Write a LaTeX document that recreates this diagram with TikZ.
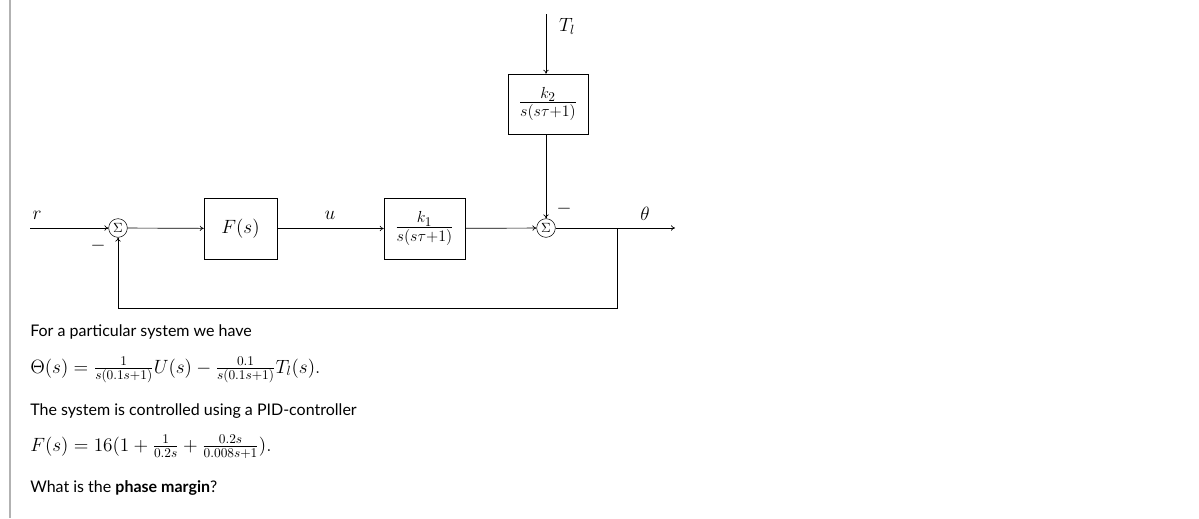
\documentclass[tikz,border=0pt]{standalone}
\usepackage{fontspec}
\setmainfont{Lato}
\usepackage{amsmath}
\usetikzlibrary{arrows.meta}
\begin{document}
\begin{tikzpicture}[x=0.75pt,y=-0.75pt,
  sm/.style={draw,circle,inner sep=0pt,minimum size=14pt,font=\normalsize},
  arr/.style={-{To[length=3pt,width=4pt]},line width=0.5pt},
  ln/.style={line width=0.5pt},
  lab/.style={font=\Large},
  txt/.style={anchor=west,font=\fontsize{12}{14}\selectfont,inner sep=0pt},
  eq/.style={anchor=west,font=\fontsize{14.5}{17}\selectfont,inner sep=0pt}]
\useasboundingbox (0,0) rectangle (1199,518);
\draw[gray!60,line width=1pt] (10,0) -- (10,518);
% nodes
\node[sm] (s1) at (118,228) {$\Sigma$};
\node[sm] (s2) at (546,228) {$\Sigma$};
\node[draw,minimum width=54.75pt,minimum height=45.75pt,font=\Large] (F) at (240.5,228.5) {$F(s)$};
\node[draw,minimum width=60.75pt,minimum height=45.75pt,font=\LARGE] (G1) at (424.5,228.5) {$\frac{k_1}{s(s\tau+1)}$};
\node[draw,minimum width=60pt,minimum height=45pt,font=\LARGE] (G2) at (548,104) {$\frac{k_2}{s(s\tau+1)}$};
\coordinate (in) at (30,228);
\coordinate (out) at (675,228);
\coordinate (tl) at (546,14);
\coordinate (fb) at (617,228);
\coordinate (fb1) at (617,308);
\coordinate (fb2) at (118,308);
\draw[arr] (in) -- (s1);
\draw[arr] (s1) -- (F);
\draw[arr] (F) -- (G1);
\draw[arr] (G1) -- (s2);
\draw[arr] (s2) -- (out);
\draw[arr] (tl) -- (G2.north -| tl);
\draw[arr] (G2.south -| s2) -- (s2);
\draw[ln] (fb) -- (fb1) -- (fb2);
\draw[arr] (fb2) -- (s1);
% labels
\node[lab] (lr) at (37,215) {$r$};
\node[lab] (lu) at (330,215) {$u$};
\node[lab] (lth) at (645,214) {$\theta$};
\node[lab] (ltl) at (567,26) {$T_l$};
\node[lab] (m1) at (98,246) {$-$};
\node[lab] (m2) at (564,209) {$-$};
% text
\node[txt] (t1) at (30,332) {For a particular system we have};
\node[eq] (t2) at (30,370) {$\Theta(s)=\frac{1}{s(0.1s+1)}U(s)-\frac{0.1}{s(0.1s+1)}T_l(s).$};
\node[txt] (t3) at (30,411) {The system is controlled using a PID-controller};
\node[eq] (t4) at (30,447) {$F(s)=16(1+\frac{1}{0.2s}+\frac{0.2s}{0.008s+1}).$};
\node[txt] (t5) at (30,488) {What is the \textbf{phase margin}?};
\end{tikzpicture}
\end{document}
